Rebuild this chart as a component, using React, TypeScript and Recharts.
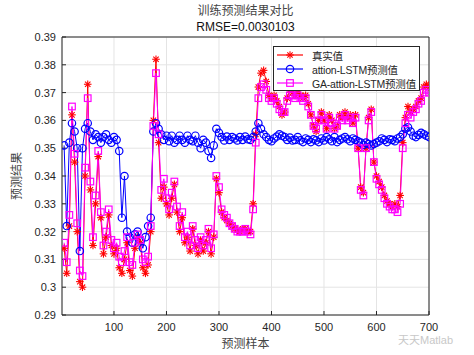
import React from "react";
import {
  LineChart,
  Line,
  XAxis,
  YAxis,
  CartesianGrid,
  ReferenceLine,
} from "recharts";

// sample spacing (every 5th sample of the 700-sample run)
const STEP = 5;

const trueValues = [
  0.314, 0.305, 0.322, 0.362, 0.345, 0.32, 0.302, 0.3, 0.34, 0.373,
  0.335, 0.315, 0.33, 0.347, 0.325, 0.312, 0.318, 0.326, 0.315, 0.312,
  0.314, 0.307, 0.305, 0.31, 0.316, 0.306, 0.304, 0.314, 0.318, 0.316,
  0.307, 0.305, 0.308, 0.32, 0.36, 0.382, 0.352, 0.332, 0.336, 0.33,
  0.326, 0.332, 0.337, 0.327, 0.32, 0.325, 0.316, 0.318, 0.313, 0.321,
  0.315, 0.312, 0.317, 0.313, 0.316, 0.32, 0.312, 0.318, 0.339, 0.334,
  0.327, 0.325, 0.324, 0.323, 0.322, 0.321, 0.3205, 0.32, 0.321, 0.321,
  0.32, 0.32, 0.33, 0.355, 0.372, 0.377, 0.378, 0.374, 0.369, 0.368,
  0.369, 0.367, 0.365, 0.362, 0.363, 0.368, 0.371, 0.37, 0.369, 0.371,
  0.369, 0.368, 0.369, 0.366, 0.362, 0.358, 0.356, 0.36, 0.363, 0.36,
  0.357, 0.362, 0.36, 0.357, 0.358, 0.362, 0.361, 0.363, 0.361, 0.362,
  0.359, 0.362, 0.35, 0.336, 0.334, 0.35, 0.361, 0.364, 0.345, 0.34,
  0.338, 0.336, 0.333, 0.331, 0.33, 0.329, 0.33, 0.329, 0.333, 0.352,
  0.361, 0.365, 0.363, 0.364, 0.365, 0.367, 0.368, 0.372, 0.373, 0.372,
];

const lstmValues = [
  0.351, 0.322, 0.352, 0.359, 0.356, 0.35, 0.313, 0.35, 0.357, 0.359,
  0.356, 0.353, 0.355, 0.354, 0.352, 0.354, 0.355, 0.353, 0.352, 0.354,
  0.353, 0.349, 0.325, 0.34, 0.32, 0.318, 0.316, 0.319, 0.32, 0.317,
  0.314, 0.318, 0.322, 0.325, 0.356, 0.359, 0.357, 0.355, 0.353, 0.3545,
  0.3525, 0.3545, 0.352, 0.353, 0.3545, 0.353, 0.352, 0.3545, 0.353, 0.3525,
  0.3545, 0.352, 0.35, 0.353, 0.352, 0.349, 0.3465, 0.351, 0.357, 0.3555,
  0.354, 0.3528, 0.3542, 0.353, 0.354, 0.3535, 0.3528, 0.354, 0.353, 0.3542,
  0.3532, 0.353, 0.354, 0.356, 0.359, 0.357, 0.355, 0.354, 0.353, 0.3525,
  0.3535, 0.3542, 0.355, 0.3545, 0.354, 0.353, 0.3538, 0.3528, 0.353, 0.354,
  0.3528, 0.3522, 0.3535, 0.353, 0.3522, 0.3532, 0.3528, 0.3522, 0.3535, 0.3528,
  0.354, 0.3532, 0.3525, 0.354, 0.3522, 0.353, 0.3535, 0.354, 0.3532, 0.3525,
  0.3535, 0.353, 0.3525, 0.352, 0.3512, 0.352, 0.3515, 0.351, 0.3515, 0.352,
  0.3525, 0.3535, 0.353, 0.3522, 0.3532, 0.353, 0.3525, 0.3535, 0.354, 0.355,
  0.357, 0.3575, 0.356, 0.3545, 0.354, 0.3548, 0.3555, 0.355, 0.3545, 0.354,
];

const gaValues = [
  0.316, 0.309, 0.326, 0.365, 0.348, 0.323, 0.306, 0.304, 0.343, 0.368,
  0.338, 0.318, 0.333, 0.349, 0.327, 0.315, 0.32, 0.328, 0.317, 0.314,
  0.316, 0.311, 0.309, 0.313, 0.318, 0.309, 0.308, 0.316, 0.319, 0.317,
  0.31, 0.309, 0.311, 0.322, 0.358, 0.377, 0.355, 0.335, 0.339, 0.332,
  0.328, 0.334, 0.338, 0.329, 0.322, 0.327, 0.318, 0.32, 0.315, 0.322,
  0.317, 0.314, 0.318, 0.315, 0.317, 0.321, 0.314, 0.319, 0.34, 0.336,
  0.328, 0.326, 0.325, 0.323, 0.322, 0.321, 0.32, 0.32, 0.32, 0.321,
  0.32, 0.319, 0.328, 0.352, 0.368, 0.372, 0.373, 0.371, 0.368, 0.367,
  0.368, 0.366, 0.364, 0.363, 0.363, 0.367, 0.369, 0.369, 0.368, 0.369,
  0.368, 0.367, 0.368, 0.365, 0.362, 0.358, 0.357, 0.36, 0.362, 0.36,
  0.357, 0.361, 0.359, 0.357, 0.358, 0.361, 0.36, 0.362, 0.36, 0.361,
  0.359, 0.361, 0.35, 0.335, 0.333, 0.35, 0.36, 0.363, 0.345, 0.339,
  0.337, 0.335, 0.332, 0.33, 0.329, 0.328, 0.328, 0.327, 0.33, 0.35,
  0.359, 0.362, 0.361, 0.363, 0.364, 0.366, 0.367, 0.37, 0.371, 0.37,
];

const xTicks = [100, 200, 300, 400, 500, 600, 700];
const yTicks = [0.29, 0.3, 0.31, 0.32, 0.33, 0.34, 0.35, 0.36, 0.37, 0.38, 0.39];

const titleLine = "训练预测结果对比";
const rmseLine = "RMSE=0.0030103";
const xLabel = "预测样本";
const yLabel = "预测结果";
const seriesNames = ["真实值", "attion-LSTM预测值", "GA-attion-LSTM预测值"];

const RED = "#ff0000";
const BLUE = "#0000ff";
const MAGENTA = "#ff00ff";
const AXIS = "#262626";

const data = trueValues.map((v, i) => ({
  sample: (i + 1) * STEP,
  truth: v,
  lstm: lstmValues[i],
  ga: gaValues[i],
}));

// MATLAB-like markers
const Star = ({ cx, cy, color }: any) => (
  <g stroke={color} strokeWidth={1.1}>
    <line x1={cx - 3.8} y1={cy} x2={cx + 3.8} y2={cy} />
    <line x1={cx} y1={cy - 3.8} x2={cx} y2={cy + 3.8} />
    <line x1={cx - 2.7} y1={cy - 2.7} x2={cx + 2.7} y2={cy + 2.7} />
    <line x1={cx - 2.7} y1={cy + 2.7} x2={cx + 2.7} y2={cy - 2.7} />
  </g>
);
const Ring = ({ cx, cy, color }: any) => (
  <circle cx={cx} cy={cy} r={3.7} fill="none" stroke={color} strokeWidth={1.2} />
);
const Box = ({ cx, cy, color }: any) => (
  <rect x={cx - 3.3} y={cy - 3.3} width={6.6} height={6.6} fill="none" stroke={color} strokeWidth={1.2} />
);

const starDot = (p: any) => <Star key={`s-${p.index}`} cx={p.cx} cy={p.cy} color={RED} />;
const ringDot = (p: any) => <Ring key={`o-${p.index}`} cx={p.cx} cy={p.cy} color={BLUE} />;
const boxDot = (p: any) => <Box key={`q-${p.index}`} cx={p.cx} cy={p.cy} color={MAGENTA} />;

const fmtY = (v: number) => String(parseFloat(v.toFixed(2)));

const cjk = '"Noto Sans CJK SC", sans-serif';
const latin = '"Liberation Sans", Arial, sans-serif';
const mixed = '"Liberation Sans", "Noto Sans CJK SC", sans-serif';

const LegendRow = ({ kind, color, label, top }: any) => (
  <div style={{ position: "absolute", left: 1, top, height: 14, display: "flex", alignItems: "center" }}>
    <svg width={30} height={14}>
      <line x1={2} y1={7} x2={28} y2={7} stroke={color} strokeWidth={1.2} />
      {kind === "star" && <Star cx={15} cy={7} color={color} />}
      {kind === "ring" && <Ring cx={15} cy={7} color={color} />}
      {kind === "box" && <Box cx={15} cy={7} color={color} />}
    </svg>
    <span style={{ marginLeft: 7, fontSize: 10.5, letterSpacing: -0.2, color: AXIS, fontFamily: mixed, whiteSpace: "nowrap" }}>
      {label}
    </span>
  </div>
);

export default function App() {
  return (
    <div style={{ position: "absolute", left: 0, top: 0, width: 474, height: 355, background: "#fff", overflow: "hidden" }}>
      <LineChart width={474} height={355} data={data} margin={{ top: 37, right: 45, bottom: 0, left: 0 }}>
        <CartesianGrid stroke="#e4e4e4" />
        <XAxis
          dataKey="sample"
          type="number"
          domain={[1, 700]}
          ticks={xTicks}
          height={40}
          tickSize={-4}
          tickMargin={12}
          stroke={AXIS}
          tick={{ fill: AXIS, fontSize: 11, fontFamily: latin }}
          allowDataOverflow
        />
        <YAxis
          type="number"
          domain={[0.29, 0.39]}
          ticks={yTicks}
          width={62}
          tickSize={-4}
          tickMargin={10}
          stroke={AXIS}
          tickFormatter={fmtY}
          tick={{ fill: AXIS, fontSize: 11, fontFamily: latin }}
          allowDataOverflow
        />
        <ReferenceLine y={0.39} stroke={AXIS} />
        <ReferenceLine x={700} stroke={AXIS} />
        <Line type="linear" dataKey="truth" stroke={RED} strokeWidth={1} dot={starDot} isAnimationActive={false} />
        <Line type="linear" dataKey="lstm" stroke={BLUE} strokeWidth={1} dot={ringDot} isAnimationActive={false} />
        <Line type="linear" dataKey="ga" stroke={MAGENTA} strokeWidth={1} dot={boxDot} isAnimationActive={false} />
      </LineChart>

      <div style={{ position: "absolute", left: 62, width: 367, top: 2, textAlign: "center", fontFamily: cjk, fontSize: 12, color: "#444", lineHeight: "16px" }}>
        {titleLine}
      </div>
      <div style={{ position: "absolute", left: 62, width: 367, top: 19, textAlign: "center", fontFamily: latin, fontSize: 12, color: "#111", lineHeight: "16px" }}>
        {rmseLine}
      </div>
      <div style={{ position: "absolute", left: 62, width: 367, top: 335, textAlign: "center", fontFamily: cjk, fontSize: 12, color: "#444", lineHeight: "16px" }}>
        {xLabel}
      </div>
      <div style={{ position: "absolute", left: 15, top: 176, transform: "translate(-50%, -50%) rotate(-90deg)", fontFamily: cjk, fontSize: 12, color: "#444", whiteSpace: "nowrap" }}>
        {yLabel}
      </div>

      <div style={{ position: "absolute", left: 273, top: 46, width: 147, height: 45, background: "#fff", border: `1px solid ${AXIS}`, boxSizing: "border-box" }}>
        <LegendRow kind="star" color={RED} label={seriesNames[0]} top={1} />
        <LegendRow kind="ring" color={BLUE} label={seriesNames[1]} top={15} />
        <LegendRow kind="box" color={MAGENTA} label={seriesNames[2]} top={29} />
      </div>

      <div style={{ position: "absolute", left: 398, top: 331, fontFamily: mixed, fontSize: 11, color: "#c8c8c8" }}>
        天天Matlab
      </div>
    </div>
  );
}
